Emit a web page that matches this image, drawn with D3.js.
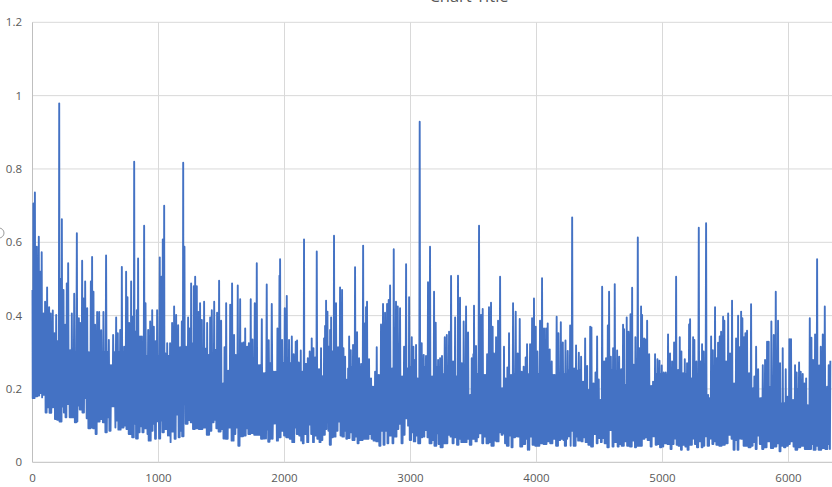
<!DOCTYPE html>
<html><head><meta charset="utf-8">
<script src="https://cdn.jsdelivr.net/npm/d3@7/dist/d3.min.js"></script>
<style>html,body{margin:0;padding:0;background:#fff;overflow:hidden}svg{display:block}text{font-family:"Open Sans",sans-serif;fill:#595959}</style>
</head><body><svg id="c" width="832" height="487"></svg>
<script>
const chartTitle = "Chart Title";
const xTicks = [0,1000,2000,3000,4000,5000,6000];
const yTicks = [0,0.2,0.4,0.6,0.8,1,1.2];
const peakIndex = [0,7,19,34,50,62,73,87,100,116,132,145,161,175,188,198,212,222,233,246,259,272,283,299,312,331,352,368,378,394,405,418,434,447,463,473,484,497,513,529,545,563,584,606,624,640,664,677,696,709,727,743,754,767,783,794,807,820,828,838,854,868,886,897,918,934,950,963,976,989,1010,1024,1034,1045,1055,1069,1092,1108,1124,1140,1156,1172,1185,1196,1206,1219,1235,1246,1259,1272,1280,1291,1304,1317,1330,1344,1362,1375,1386,1399,1410,1423,1442,1457,1465,1481,1497,1513,1524,1537,1553,1569,1584,1600,1613,1629,1648,1661,1674,1688,1703,1717,1732,1746,1764,1780,1796,1820,1836,1859,1875,1899,1926,1944,1960,
1965,1981,2002,2018,2036,2058,2073,2089,2100,2113,2129,2142,2155,2166,2185,2200,2216,2230,2243,2256,2274,2290,2304,2314,2322,2330,2341,2351,2362,2370,2380,2393,2409,2425,2441,2457,2468,2481,2494,2505,2513,2526,2544,2560,2576,2592,2608,2624,2637,2647,2655,2671,2687,2703,2719,2732,2748,2766,2782,2798,2814,2827,2838,2854,2867,2885,2899,2917,2933,2949,2965,2978,2989,3010,3023,3036,3044,3057,3073,3089,3105,3123,3139,3155,3171,3187,3200,3219,3235,3250,3272,3288,3306,3322,3338,3354,3367,3377,3393,3407,3422,3441,3457,3475,3486,3499,3504,3520,3544,3560,3573,3589,3608,3623,3639,3652,3663,3679,3695,3711,3727,3742,3753,3769,3782,3798,3814,3835,3851,3867,3883,3898,3914,3925,3949,3965,3980,3994,4007,4028,4044,4060,4076,4089,4105,4121,4142,4160,4174,
4193,4209,4230,4248,4267,4283,4299,4314,4336,4354,4370,4386,4402,4415,4426,4436,4452,4468,4481,4494,4508,4521,4537,4552,4566,4576,4590,4608,4621,4640,4656,4672,4687,4695,4706,4716,4730,4746,4759,4772,4785,4804,4817,4830,4838,4854,4865,4878,4894,4910,4925,4941,4960,4976,4994,5010,5026,5044,5060,5076,5092,5108,5124,5137,5150,5163,5177,5195,5211,5219,5230,5243,5253,5269,5288,5301,5314,5327,5346,5362,5372,5386,5399,5417,5431,5441,5454,5465,5481,5491,5505,5521,5536,5552,5568,5584,5600,5610,5624,5634,5647,5658,5671,5687,5703,5719,5729,5743,5759,5777,5796,5814,5830,5843,5849,5864,5883,5899,5917,5933,5946,5954,5968,5978,5991,6007,6020,6036,6052,6065,6084,6097,6113,6126,6140,6153,6169,6182,6195,6211,6227,6243,6256,6272,6288,6306,6319,6332];
const peakValue = [.47,.706,.736,.588,.615,.52,.573,.406,.438,.477,.423,.406,.414,.352,.402,.33,.979,.5,.663,.47,.375,.488,.543,.306,.406,.46,.625,.393,.38,.55,.447,.493,.42,.3,.493,.56,.465,.375,.41,.41,.36,.41,.564,.334,.265,.347,.395,.352,.361,.533,.315,.52,.45,.38,.493,.397,.82,.356,.415,.556,.343,.343,.645,.434,.361,.384,.415,.37,.33,.415,.559,.506,.608,.7,.297,.325,.325,.38,.425,.402,.374,.314,.384,.817,.588,.315,.395,.365,.488,.325,.48,.506,.48,.41,.434,.388,.438,.31,.38,.293,.395,.415,.438,.307,.408,.495,.386,.215,.314,.434,.25,.43,.488,.347,.293,.482,.445,.325,.327,.365,.315,.325,.445,.335,.434,.543,.265,.39,.243,.485,.333,.432,.247,.365,.509,
.554,.334,.42,.454,.334,.343,.295,.329,.332,.272,.305,.247,.608,.268,.284,.302,.338,.311,.286,.575,.254,.311,.235,.338,.372,.441,.411,.315,.361,.395,.302,.618,.434,.314,.477,.47,.311,.288,.225,.256,.343,.306,.32,.532,.355,.284,.268,.591,.379,.423,.438,.281,.229,.206,.247,.314,.238,.376,.432,.408,.432,.443,.482,.256,.581,.438,.425,.42,.234,.315,.54,.256,.45,.341,.315,.279,.32,.229,.929,.325,.293,.29,.491,.588,.234,.465,.381,.279,.284,.29,.341,.347,.356,.508,.275,.395,.234,.509,.449,.27,.384,.425,.354,.184,.284,.295,.427,.317,.645,.402,.418,.238,.295,.423,.435,.37,.297,.341,.386,.506,.202,.315,.229,.259,.352,.238,.434,.411,.297,.391,.247,.261,.286,.322,.322,.393,.447,.37,.302,.386,.502,.365,.365,.379,.308,.275,.238,.397,.352,
.382,.327,.332,.304,.373,.668,.256,.319,.299,.288,.22,.338,.263,.197,.37,.368,.215,.245,.343,.226,.17,.479,.275,.284,.373,.465,.288,.311,.486,.305,.288,.254,.375,.363,.211,.395,.356,.404,.476,.266,.341,.613,.311,.425,.402,.338,.335,.386,.295,.208,.22,.295,.281,.277,.264,.245,.245,.349,.297,.275,.327,.506,.252,.341,.302,.243,.281,.27,.376,.39,.229,.341,.334,.275,.64,.275,.322,.302,.652,.184,.175,.343,.306,.423,.284,.326,.343,.356,.397,.386,.275,.406,.297,.441,.215,.338,.4,.314,.411,.393,.341,.352,.359,.243,.431,.202,.234,.315,.254,.175,.265,.279,.329,.329,.206,.384,.347,.465,.386,.27,.161,.311,.161,.254,.179,.336,.336,.17,.265,.245,.272,.247,.241,.215,.229,.156,.393,.34,.279,.349,.554,.264,.315,.349,.425,.206,.265,.277];
const troughIndex = [1,33,49,67,75,91,104,126,139,160,171,184,205,224,237,253,263,279,298,324,337,358,366,382,403,419,435,451,472,488,509,525,549,567,583,602,615,641,655,665,689,715,734,752,774,800,811,829,848,864,879,895,911,932,948,964,980,991,1012,1022,1038,1057,1078,1096,1112,1131,1149,1165,1176,1197,1205,1223,1244,1263,1281,1303,1329,1369,1395,1414,1435,1448,1461,1488,1506,1519,1546,1567,1588,1607,1625,1641,1660,1686,1699,1720,1739,1765,1792,1818,1845,1863,1874,1898,1924,1943,1964,1985,2003,2022,2043,2070,2085,2104,
2123,2136,2149,2165,2181,2197,2213,2229,2245,2261,2282,2298,2313,2329,2340,2350,2361,2380,2398,2414,2430,2446,2467,2480,2493,2509,2525,2546,2567,2583,2604,2639,2665,2678,2694,2718,2737,2752,2774,2790,2805,2821,2837,2864,2877,2903,2917,2930,2951,2969,2985,3001,3017,3035,3049,3070,3086,3107,3125,3141,3160,3181,3197,3213,3229,3247,3266,3287,3305,3321,3340,3356,3377,3393,3414,3438,3459,3477,3498,3520,3538,3557,3572,3591,3609,3631,3652,3670,3689,3710,3726,3742,3758,3771,3789,3803,3821,3842,3863,3879,3900,3922,3940,3956,3975,3996,4017,4041,4067,4094,4120,4146,4165,4191,
4202,4215,4228,4244,4260,4271,4287,4303,4321,4340,4361,4377,4392,4419,4445,4467,4482,4498,4514,4530,4546,4567,4586,4604,4625,4646,4665,4683,4705,4726,4749,4768,4784,4810,4831,4850,4869,4890,4908,4929,4948,4969,4988,5003,5022,5048,5070,5088,5101,5117,5133,5149,5165,5186,5202,5223,5244,5260,5281,5297,5313,5331,5347,5366,5384,5398,5413,5435,5458,5485,5511,5535,5551,5569,5583,5599,5614,5630,5651,5673,5691,5710,5728,5744,5760,5776,5794,5815,5847,5863,5895,5916,5932,5948,5969,5987,6006,6027,6040,6059,6085,6112,6146,6173,6191,6207,6225,6244,6278,6305,6318,6334];
const troughValue = [.175,.18,.182,.189,.177,.184,.136,.15,.135,.15,.171,.118,.116,.111,.152,.136,.123,.159,.123,.123,.109,.111,.155,.144,.136,.175,.12,.093,.095,.093,.077,.111,.118,.109,.082,.123,.086,.153,.095,.114,.089,.095,.1,.091,.077,.068,.105,.065,.082,.098,.082,.093,.077,.059,.086,.105,.064,.112,.065,.114,.082,.091,.073,.055,.084,.064,.13,.068,.086,.071,.159,.105,.115,.109,.091,.093,.091,.095,.075,.086,.109,.116,.093,.084,.091,.065,.064,.095,.059,.077,.095,.045,.071,.073,.093,.077,.08,.075,.075,.064,.065,.089,.056,.064,.106,.059,.068,.086,.073,.068,.064,.055,.095,.077,
.073,.059,.052,.077,.055,.103,.077,.055,.073,.064,.055,.061,.075,.091,.119,.086,.048,.068,.07,.086,.111,.073,.07,.086,.064,.066,.082,.061,.07,.052,.061,.064,.064,.077,.064,.059,.057,.045,.086,.048,.086,.052,.073,.052,.07,.091,.105,.052,.075,.12,.1,.061,.082,.057,.073,.052,.068,.07,.088,.068,.052,.061,.045,.079,.05,.041,.052,.052,.075,.07,.052,.068,.048,.064,.055,.055,.064,.048,.064,.057,.068,.079,.052,.07,.052,.055,.045,.059,.057,.082,.075,.079,.052,.045,.073,.041,.068,.071,.07,.043,.05,.064,.034,.07,.048,.045,.045,.052,.05,.057,.052,.064,.045,.061,
.064,.061,.045,.064,.071,.045,.086,.045,.07,.059,.057,.068,.055,.048,.043,.077,.052,.066,.055,.066,.052,.041,.088,.043,.055,.043,.05,.045,.057,.045,.043,.059,.041,.045,.045,.064,.068,.061,.043,.071,.048,.05,.041,.043,.052,.05,.036,.05,.065,.048,.045,.034,.048,.043,.034,.048,.065,.05,.041,.057,.041,.045,.071,.045,.065,.05,.057,.048,.045,.048,.052,.075,.064,.034,.061,.034,.065,.064,.045,.045,.041,.045,.055,.036,.073,.05,.036,.041,.057,.039,.043,.052,.03,.045,.041,.045,.05,.057,.043,.034,.041,.045,.036,.036,.05,.034,.045,.034,.039,.036,.05,.036];
const bodyIndex = [0,500,1000,1500,2000,2500,3000,3500,4000,4500,5000,5500,6000];
const bodyValue = [.33,.3,.29,.26,.27,.26,.26,.24,.24,.25,.24,.22,.2];

const svg = d3.select("#c");
const x = d3.scaleLinear().domain([0,7000]).range([32.5,914.5]);
const y = d3.scaleLinear().domain([0,1.2]).range([462.3,22.3]);
const grid = "#d9d9d9";
svg.append("g").selectAll("line").data(yTicks).join("line")
  .attr("x1",x(0)).attr("x2",832).attr("y1",d=>y(d)).attr("y2",d=>y(d))
  .attr("stroke",d=>d===0?"#bfbfbf":grid).attr("stroke-width",1);
svg.append("g").selectAll("line").data(xTicks).join("line")
  .attr("x1",d=>x(d)).attr("x2",d=>x(d)).attr("y1",y(1.2)).attr("y2",y(0))
  .attr("stroke",d=>d===0?"#bfbfbf":grid).attr("stroke-width",1);

const nearest = d3.bisector(d=>d).center;
const pts = [];
peakIndex.forEach((px,i)=>{
  pts.push([px,peakValue[i]]);
  if(i<peakIndex.length-1){
    const nx=peakIndex[i+1], d=nx-px;
    const a=px+d/4, b=px+d/2, c=px+3*d/4;
    pts.push([a,troughValue[nearest(troughIndex,a)]]);
    pts.push([b,Math.min(bodyValue[nearest(bodyIndex,b)],peakValue[i],peakValue[i+1])]);
    pts.push([c,troughValue[nearest(troughIndex,c)]]);
  }
});
const line = d3.line().x(d=>x(d[0])).y(d=>y(d[1]));
svg.append("path").attr("d",line(pts)).attr("fill","none").attr("stroke","#4472c4").attr("stroke-width",1.9).attr("stroke-linejoin","round");

svg.append("g").selectAll("text").data(xTicks).join("text")
  .attr("x",d=>x(d)).attr("y",482).attr("text-anchor","middle").attr("font-size",11.5).text(d=>d);
svg.append("g").selectAll("text").data(yTicks).join("text")
  .attr("x",22).attr("y",d=>y(d)+4).attr("text-anchor","end").attr("font-size",11.5).text(d=>d);
svg.append("text").attr("x",469).attr("y",2).attr("text-anchor","middle").attr("font-size",16.5).text(chartTitle);
svg.append("circle").attr("cx",-1).attr("cy",233).attr("r",5).attr("fill","#fff").attr("stroke","#9a9a9a").attr("stroke-width",1);
</script></body></html>
